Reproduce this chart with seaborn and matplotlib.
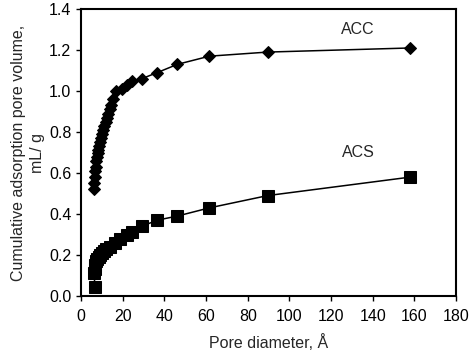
import numpy as np
import pandas as pd
import matplotlib
matplotlib.use("Agg")
import matplotlib.pyplot as plt
import seaborn as sns

# ACC curve (diamonds)
acc_d = [6.2, 6.4, 6.6, 6.8, 7.0, 7.3, 7.6, 7.9, 8.3, 8.7, 9.1, 9.6, 10.1, 10.6,
         11.2, 11.8, 12.4, 13.1, 13.8, 14.6, 15.5, 16.8, 19.5, 21.9, 24.6, 29.1,
         36.6, 46.2, 61.6, 89.6, 158.0]
acc_v = [0.52, 0.55, 0.58, 0.61, 0.63, 0.66, 0.68, 0.70, 0.71, 0.73, 0.75, 0.77,
         0.79, 0.81, 0.83, 0.85, 0.87, 0.89, 0.91, 0.93, 0.96, 1.00, 1.01, 1.03,
         1.05, 1.06, 1.09, 1.13, 1.17, 1.19, 1.21]

# ACS curve (squares)
acs_d = [6.7, 6.2, 6.5, 6.9, 7.3, 7.8, 8.4, 9.1, 10.0, 11.0, 12.2, 13.9, 16.3,
         18.7, 21.9, 24.3, 29.1, 36.6, 46.2, 61.6, 89.6, 158.0]
acs_v = [0.045, 0.11, 0.13, 0.15, 0.17, 0.18, 0.19, 0.20, 0.21, 0.22, 0.23, 0.24,
         0.26, 0.28, 0.30, 0.31, 0.34, 0.37, 0.39, 0.43, 0.49, 0.58]

labels = ["ACC", "ACS"]

sns.set_style("ticks")
plt.rcParams["font.family"] = ["Liberation Sans", "DejaVu Sans"]
fs = 11.5

fig = plt.figure(figsize=(4.74, 3.61), dpi=100)
ax = fig.add_axes([0.171, 0.180, 0.791, 0.795])

sns.lineplot(x=acc_d, y=acc_v, ax=ax, color="black", marker="D", markersize=6.5,
             markeredgecolor="black", linewidth=1.1, sort=False, estimator=None)
sns.lineplot(x=acs_d, y=acs_v, ax=ax, color="black", marker="s", markersize=8,
             markeredgecolor="black", linewidth=1.1, sort=False, estimator=None)

ax.text(133, 1.30, labels[0], fontsize=fs, ha="center", va="center")
ax.text(133, 0.70, labels[1], fontsize=fs, ha="center", va="center")

ax.set_xlim(0, 180)
ax.set_ylim(0, 1.4)
ax.set_xticks(np.arange(0, 181, 20))
ax.set_yticks(np.arange(0, 1.41, 0.2))
ax.set_yticklabels([f"{v:.1f}" for v in np.arange(0, 1.41, 0.2)])
ax.tick_params(direction="out", length=3.5, width=1, labelsize=fs, colors="black")
ax.tick_params(axis="x", pad=6)
for s in ax.spines.values():
    s.set_visible(True)
    s.set_linewidth(1.5)
    s.set_color("black")

ax.set_xlabel("Pore diameter, Å", fontsize=fs, labelpad=7)
ax.set_ylabel("Cumulative adsorption pore volume,\nmL/ g", fontsize=fs,
              labelpad=3, linespacing=1.35)

fig.savefig("out.png", dpi=100)
